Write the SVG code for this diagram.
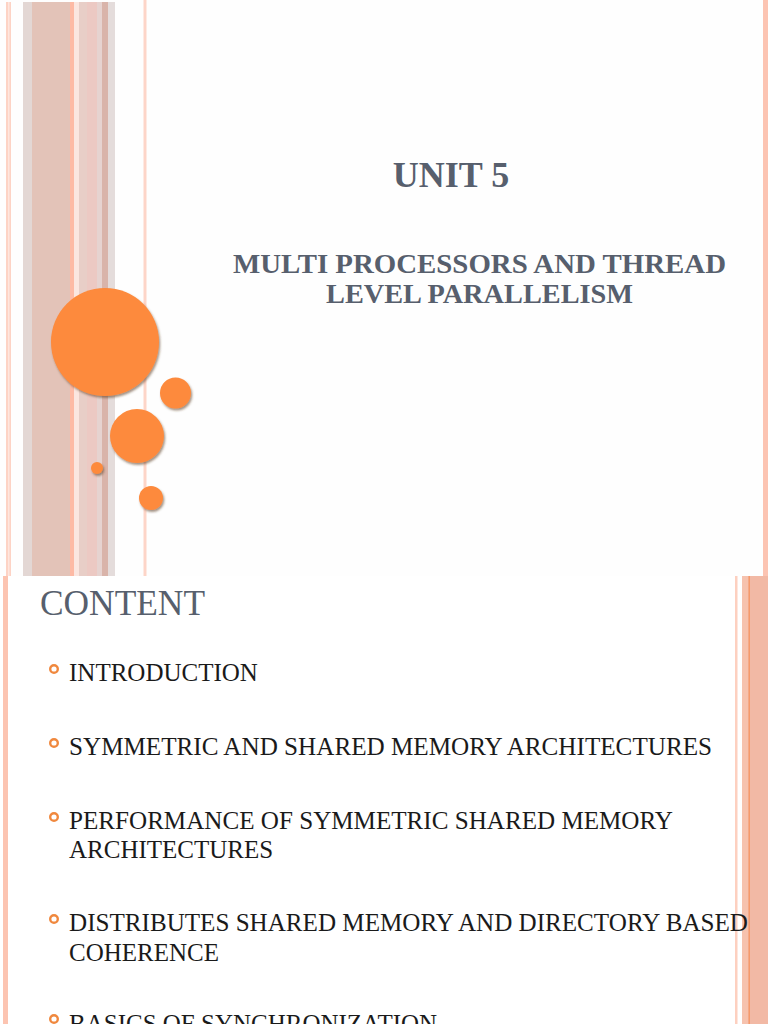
<svg xmlns="http://www.w3.org/2000/svg" width="768" height="1024" viewBox="0 0 768 1024">
  <style>
    .title { font-family: "Liberation Serif", "DejaVu Serif", serif; font-weight: bold; fill: #575f6d; text-anchor: middle; }
    .head { font-family: "Liberation Serif", "DejaVu Serif", serif; fill: #575f6d; font-size: 36px; }
    .item { font-family: "Liberation Serif", "DejaVu Serif", serif; fill: #1a1a1a; font-size: 25px; }
    .dot { fill: #fd8a3c; filter: url(#sh); }
    .bullet { fill: none; stroke: #f0883e; stroke-width: 2.4; }
  </style>
  <defs>
    <filter id="sh" x="-20%" y="-20%" width="150%" height="150%">
      <feDropShadow dx="1.2" dy="2" stdDeviation="1" flood-color="#5a3a22" flood-opacity="0.55"/>
    </filter>
  </defs>

  <rect x="0" y="0" width="768" height="1024" fill="#ffffff"/>

  <!-- Slide 1 -->
  <g id="slide1">
    <rect x="0" y="0" width="768" height="576" fill="#fefefe"/>
    <g id="left-stripes">
      <rect x="6" y="2" width="5" height="574" fill="#fdd3c5"/>
      <rect x="8" y="2" width="1.5" height="574" fill="#fee6de"/>
      <rect x="23" y="2" width="9" height="574" fill="#e3d7d4"/>
      <rect x="32" y="2" width="38" height="574" fill="#e3c3b8"/>
      <rect x="70" y="2" width="4" height="574" fill="#fdbaa5"/>
      <rect x="74" y="2" width="5" height="574" fill="#fbe6e0"/>
      <rect x="79" y="2" width="8" height="574" fill="#e8cec7"/>
      <rect x="87" y="2" width="10" height="574" fill="#ecc9c3"/>
      <rect x="97" y="2" width="5" height="574" fill="#e6d3d0"/>
      <rect x="102" y="2" width="6" height="574" fill="#d9b4aa"/>
      <rect x="108" y="2" width="7" height="574" fill="#e4dcdb"/>
      <rect x="143.5" y="0" width="3" height="576" fill="#fdd5c8"/>
    </g>
    <rect id="right-strip" x="763" y="0" width="5" height="576" fill="#fcc4b2"/>
    <g id="circles">
      <circle class="dot" cx="105" cy="342" r="54"/>
      <circle class="dot" cx="175.5" cy="393" r="15.5"/>
      <circle class="dot" cx="137" cy="436" r="27"/>
      <circle class="dot" cx="97" cy="468" r="6"/>
      <circle class="dot" cx="151" cy="498" r="12"/>
    </g>
    <g id="title">
      <text class="title" x="451" y="187" font-size="36">UNIT 5</text>
      <text class="title" x="479.5" y="273" font-size="28" textLength="493" lengthAdjust="spacingAndGlyphs">MULTI PROCESSORS AND THREAD</text>
      <text class="title" x="479.5" y="303" font-size="28" textLength="307" lengthAdjust="spacingAndGlyphs">LEVEL PARALLELISM</text>
    </g>
  </g>

  <!-- Slide 2 -->
  <g id="slide2">
    <rect x="0" y="576" width="768" height="448" fill="#ffffff"/>
    <rect x="3" y="576" width="5" height="448" fill="#fcc4b1"/>
    <g id="right-stripes2">
      <rect x="735" y="576" width="2.5" height="448" fill="#fdd0c0"/>
      <rect x="742" y="576" width="26" height="448" fill="#f2b9a5"/>
      <rect x="742" y="576" width="6" height="448" fill="#f6c2ae"/>
      <rect x="748.5" y="576" width="1.5" height="448" fill="#f59a6c"/>
    </g>
    <text id="content-head" class="head" x="40" y="615" textLength="165" lengthAdjust="spacingAndGlyphs">CONTENT</text>
    <g id="items">
      <circle class="bullet" cx="54" cy="669" r="3.8"/>
      <text class="item" x="69" y="681">INTRODUCTION</text>
      <circle class="bullet" cx="54" cy="743" r="3.8"/>
      <text class="item" x="69" y="755" textLength="643" lengthAdjust="spacingAndGlyphs">SYMMETRIC AND SHARED MEMORY ARCHITECTURES</text>
      <circle class="bullet" cx="54" cy="817" r="3.8"/>
      <text class="item" x="69" y="829" textLength="604" lengthAdjust="spacingAndGlyphs">PERFORMANCE OF SYMMETRIC SHARED MEMORY</text>
      <text class="item" x="69" y="858">ARCHITECTURES</text>
      <circle class="bullet" cx="54" cy="919" r="3.8"/>
      <text class="item" x="69" y="931" textLength="679" lengthAdjust="spacingAndGlyphs">DISTRIBUTES SHARED MEMORY AND DIRECTORY BASED</text>
      <text class="item" x="69" y="961">COHERENCE</text>
      <circle class="bullet" cx="54" cy="1019" r="3.8"/>
      <text class="item" x="69" y="1032">BASICS OF SYNCHRONIZATION</text>
    </g>
  </g>
</svg>
